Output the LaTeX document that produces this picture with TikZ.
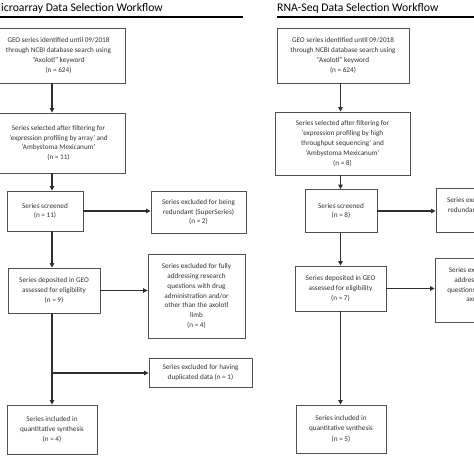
\documentclass[tikz,border=0pt]{standalone}
\usepackage{fontspec}
\setmainfont{Carlito}
\usetikzlibrary{arrows.meta}
\definecolor{boxgray}{HTML}{505050}
\definecolor{linegray}{HTML}{2E2E2E}
\definecolor{textgray}{HTML}{333333}
\newcommand\boxfont{\fontsize{7.2}{9.9}\selectfont}
\newcommand\titlefont{\fontsize{11.7}{14}\selectfont}
\tikzset{
  box/.style={draw=boxgray, line width=0.9pt, inner sep=1pt, align=center, font=\boxfont, text=textgray},
  arr/.style={draw=linegray, line width=1.1pt, -{Triangle[length=4.5pt,width=4.5pt]}},
  rule/.style={draw=black, line width=1.5pt},
  title/.style={font=\titlefont, text=black, inner sep=0pt}
}
\begin{document}
\begin{tikzpicture}[x=1pt,y=-1pt]
\useasboundingbox (0,0) rectangle (474,474);
\clip (0,0) rectangle (474,474);
\fill[white] (0,0) rectangle (474,474);
% titles
\node[title, anchor=base east] (TL) at (163,11.5) {Microarray Data Selection Workflow};
\node[title, anchor=base west] (TR) at (277,11.5) {RNA-Seq Data Selection Workflow};
\coordinate (rl0) at (-5,17); \coordinate (rl1) at (243,17);
\coordinate (rr0) at (277,17); \coordinate (rr1) at (480,17);
\draw[rule] (rl0) -- (rl1);
\draw[rule] (rr0) -- (rr1);
% vertical line positions
\coordinate (xl) at (52,0);
\coordinate (xr) at (340.5,0);
% left column
\node[box, minimum width=133pt, minimum height=55pt] (L1) at (58.5,55.5)
  {GEO series identified until 09/2018\\through NCBI database search using\\“Axolotl” keyword\\(n = 624)};
\node[box, minimum width=133pt, minimum height=60pt] (L2) at (58.5,143)
  {Series selected after filtering for\\‘expression profiling by array’ and\\‘Ambystoma Mexicanum’\\(n = 11)};
\node[box, minimum width=76pt, minimum height=40pt] (L3) at (45,211)
  {Series screened\\(n = 11)};
\node[box, minimum width=95pt, minimum height=42pt] (L3x) at (198.5,212)
  {Series excluded for being\\redundant (SuperSeries)\\(n = 2)};
\node[box, minimum width=92pt, minimum height=45pt] (L4) at (54,290.5)
  {Series deposited in GEO\\assessed for eligibility\\(n = 9)};
\node[box, minimum width=97pt, minimum height=84pt] (L4x) at (196.5,296)
  {Series excluded for fully\\addressing research\\questions with drug\\administration and/or\\other than the axolotl\\limb\\(n = 4)};
\node[box, minimum width=103pt, minimum height=29pt] (L5) at (200.5,373)
  {Series excluded for having\\duplicated data (n = 1)};
\node[box, minimum width=90pt, minimum height=49pt] (L6) at (52,429.5)
  {Series included in\\quantitative synthesis\\[1pt](n = 4)};
% right column
\node[box, minimum width=132pt, minimum height=55pt] (R1) at (343,55.5)
  {GEO series identified until 09/2018\\through NCBI database search using\\“Axolotl” keyword\\(n = 624)};
\node[box, minimum width=135pt, minimum height=63pt] (R2) at (342.5,143.5)
  {Series selected after filtering for\\‘expression profiling by high\\throughput sequencing’ and\\‘Ambystoma Mexicanum’\\(n = 8)};
\node[box, minimum width=72pt, minimum height=43pt] (R3) at (341,211)
  {Series screened\\(n = 8)};
\node[box, minimum width=95pt, minimum height=44pt] (R3x) at (483.5,210)
  {Series excluded for being\\redundant (SuperSeries)\\(n = 1)};
\node[box, minimum width=91pt, minimum height=45pt] (R4) at (340.5,288.5)
  {Series deposited in GEO\\assessed for eligibility\\(n = 7)};
\node[box, minimum width=97pt, minimum height=64pt] (R4x) at (483.5,290)
  {Series excluded for fully\\addressing research\\questions other than the\\axolotl limb\\(n = 2)};
\node[box, minimum width=90pt, minimum height=48pt] (R6) at (341,429)
  {Series included in\\quantitative synthesis\\[1pt](n = 5)};
% left connectors
\draw[arr] (L1.south -| xl) -- (L2.north -| xl);
\draw[arr] (L2.south -| xl) -- (L3.north -| xl);
\draw[arr] (L3.south -| xl) -- (L4.north -| xl);
\draw[arr] (L4.south -| xl) -- (L6.north -| xl);
\draw[arr] (L5.west -| xl) -- (L5.west);
\draw[arr] (L3.east) -- (L3.east -| L3x.west);
\draw[arr] (L4.east) -- (L4.east -| L4x.west);
% right connectors
\draw[arr] (R1.south -| xr) -- (R2.north -| xr);
\draw[arr] (R2.south -| xr) -- (R3.north -| xr);
\draw[arr] (R3.south -| xr) -- (R4.north -| xr);
\draw[arr] (R4.south -| xr) -- (R6.north -| xr);
\draw[arr] (R3.east) -- (R3.east -| R3x.west);
\draw[arr] (R4.east) -- (R4.east -| R4x.west);
\end{tikzpicture}
\end{document}
